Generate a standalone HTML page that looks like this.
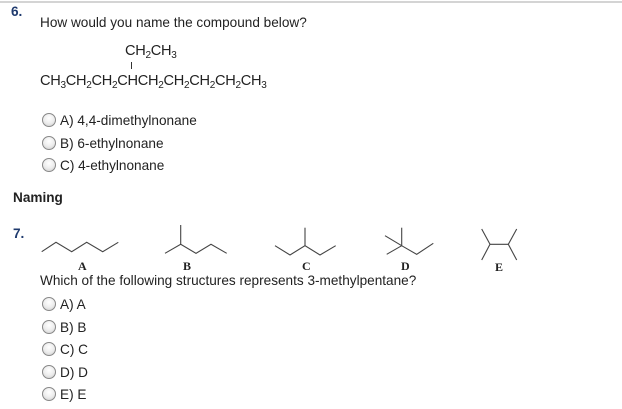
<!DOCTYPE html>
<html><head><meta charset="utf-8"><style>
body{margin:0;width:622px;height:409px;background:#fff;position:relative;overflow:hidden;font-family:"Liberation Sans",Arial,sans-serif;color:#222;}
.t{position:absolute;white-space:nowrap;font-size:13.6px;line-height:15px;}
.f{position:absolute;white-space:nowrap;font-size:14.6px;line-height:16px;letter-spacing:-0.3px;}
.b{font-weight:bold;}
.num{color:#1f3a6e;font-weight:bold;font-size:13.6px;}
.r{position:absolute;width:12px;height:12px;border:1px solid #888;border-radius:50%;background:radial-gradient(circle at 50% 35%,#fff 0%,#eee 50%,#ccc 100%);}
sub{font-size:10px;vertical-align:-3px;line-height:0;}
.lab{position:absolute;font-family:"Liberation Serif",serif;font-weight:bold;font-size:12px;}
</style></head><body>
<div style="position:absolute;left:0;top:1px;width:622px;height:2px;background:#d4d4d4"></div>
<div class="t num" style="left:11px;top:4px">6.</div>
<div class="t" style="left:40px;top:15px">How would you name the compound below?</div>
<div class="f" style="left:125px;top:43px">CH<sub>2</sub>CH<sub>3</sub></div>
<div style="position:absolute;left:131px;top:62px;width:1px;height:7px;background:#333"></div>
<div class="f" style="left:40px;top:73px">CH<sub>3</sub>CH<sub>2</sub>CH<sub>2</sub>CHCH<sub>2</sub>CH<sub>2</sub>CH<sub>2</sub>CH<sub>2</sub>CH<sub>3</sub></div>
<div class="r" style="left:42px;top:113px"></div><div class="t" style="left:60px;top:113px">A) 4,4-dimethylnonane</div>
<div class="r" style="left:42px;top:136px"></div><div class="t" style="left:60px;top:136px">B) 6-ethylnonane</div>
<div class="r" style="left:42px;top:158px"></div><div class="t" style="left:60px;top:158px">C) 4-ethylnonane</div>
<div class="t b" style="left:13px;top:190px">Naming</div>
<div class="t num" style="left:13px;top:226px">7.</div>
<svg width="622" height="409" style="position:absolute;left:0;top:0" fill="none" stroke="#444" stroke-width="1.1">
<polyline points="41.7,251.7 56,242.3 71.7,251.7 86.7,242.3 102.7,251.7 118.3,242.3"/>
<polyline points="165,253.3 180.7,244.3 196,253.3 211,244.3 226.7,253.3"/><line x1="180.7" y1="225" x2="180.7" y2="244.3"/>
<polyline points="275,245.7 290,255 305,245.7 320,255 335.7,245.7"/><line x1="305" y1="227.7" x2="305" y2="245.7"/>
<polyline points="386.7,254.3 401.7,245.7 416.7,254.3 433.3,243.3"/><line x1="401.7" y1="227.7" x2="401.7" y2="245.7"/><line x1="385" y1="235.7" x2="401.7" y2="245.7"/>
<line x1="490" y1="244.3" x2="508.3" y2="244.3"/><line x1="481.7" y1="229" x2="490" y2="244.3"/><line x1="481.7" y1="260" x2="490" y2="244.3"/><line x1="516.7" y1="229" x2="508.3" y2="244.3"/><line x1="516.7" y1="260" x2="508.3" y2="244.3"/>
</svg>
<div class="lab" style="left:78px;top:259px">A</div>
<div class="lab" style="left:183px;top:259px">B</div>
<div class="lab" style="left:302px;top:259px">C</div>
<div class="lab" style="left:401px;top:259px">D</div>
<div class="lab" style="left:495px;top:260px">E</div>
<div class="t" style="left:40px;top:273px">Which of the following structures represents 3-methylpentane?</div>
<div class="r" style="left:42px;top:297px"></div><div class="t" style="left:60px;top:297px">A) A</div>
<div class="r" style="left:42px;top:320px"></div><div class="t" style="left:60px;top:320px">B) B</div>
<div class="r" style="left:42px;top:342px"></div><div class="t" style="left:60px;top:342px">C) C</div>
<div class="r" style="left:42px;top:365px"></div><div class="t" style="left:60px;top:365px">D) D</div>
<div class="r" style="left:42px;top:387px"></div><div class="t" style="left:60px;top:387px">E) E</div>
</body></html>
